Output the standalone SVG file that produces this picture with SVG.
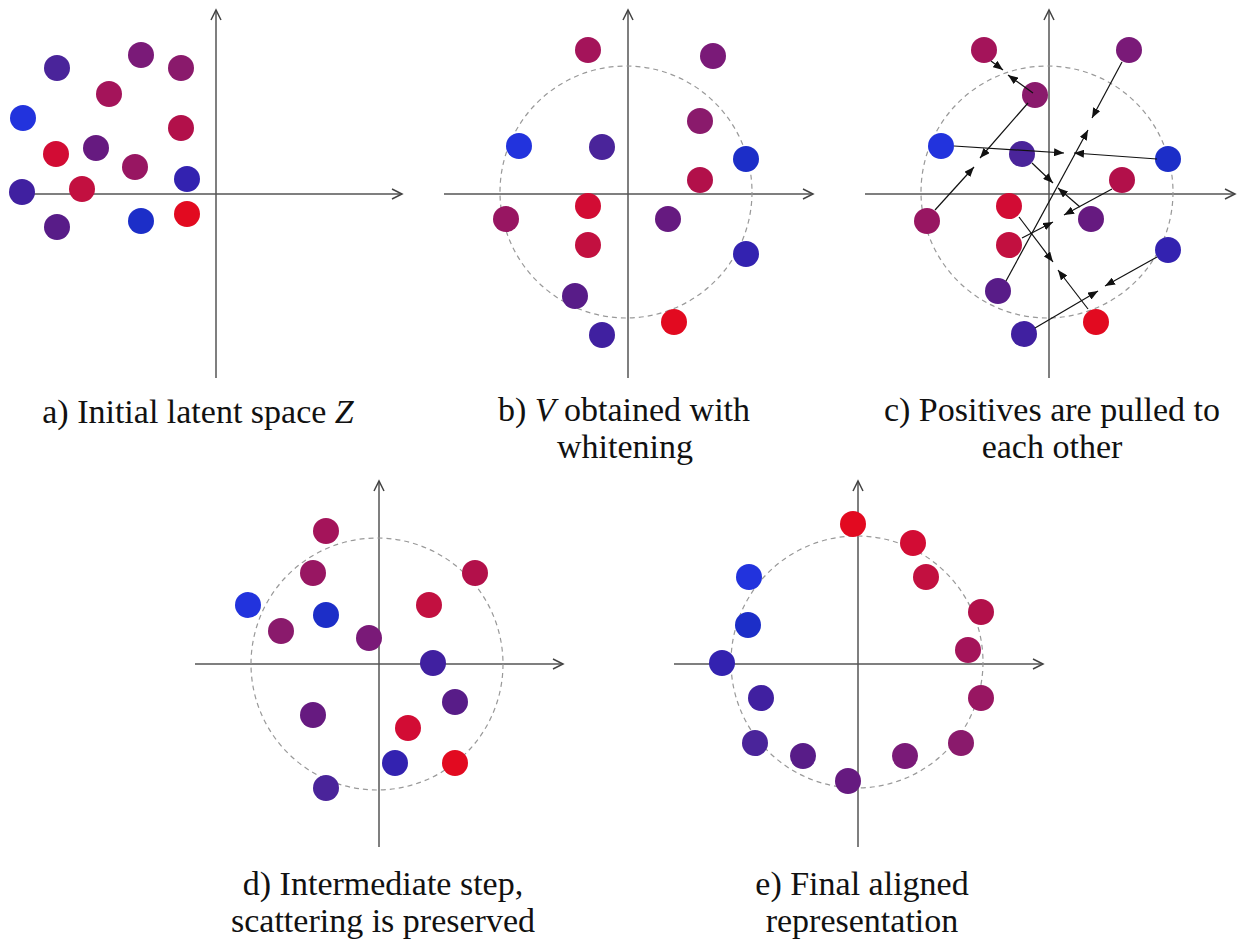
<svg xmlns="http://www.w3.org/2000/svg" width="1246" height="942" viewBox="0 0 1246 942">
<style>
.ax{stroke:#555;stroke-width:1.5;fill:none}
.ah{stroke:#444;stroke-width:1.5;fill:none}
.dc{stroke:#999;stroke-width:1.2;fill:none;stroke-dasharray:5 4}
.pt{stroke:none}
.b1{fill:#2233dd}.b2{fill:#1c2ec8}.i1{fill:#3322b0}.i2{fill:#4020a0}.i3{fill:#4a249a}
.p1{fill:#581c88}.p2{fill:#661a80}.p3{fill:#7a1a78}.m1{fill:#8a1a6c}.m2{fill:#981662}
.c1{fill:#a4145a}.c2{fill:#b2104a}.r1{fill:#c21040}.r2{fill:#d20c34}.r3{fill:#e20a20}
.ar{stroke:#111;stroke-width:1.2;fill:none;marker-end:url(#tri)}
text{font-family:'Liberation Serif','Times New Roman','DejaVu Serif',Times,serif;font-size:34px;fill:#111;text-anchor:middle}
</style>
<defs>
<marker id="tri" viewBox="0 0 10 8" refX="10" refY="4" markerWidth="10" markerHeight="8" markerUnits="userSpaceOnUse" orient="auto">
<path d="M0,0 L10,4 L0,8 Z" fill="#111"/>
</marker>
</defs>

<!-- Panel a -->
<g id="panel-a">
<g id="axes-a">
<line class="ax" x1="216" y1="10" x2="216" y2="378"/>
<line class="ax" x1="10" y1="194" x2="402" y2="194"/>
<path class="ah" d="M211,20 L216,10 L221,20"/>
<path class="ah" d="M392,189 L402,194 L392,199"/>
</g>
<g id="a1"><circle class="pt i3" cx="57" cy="68" r="13"/></g>
<g id="a2"><circle class="pt p3" cx="141" cy="55" r="13"/></g>
<g id="a3"><circle class="pt m1" cx="181" cy="68" r="13"/></g>
<g id="a4"><circle class="pt c1" cx="109" cy="94" r="13"/></g>
<g id="a5"><circle class="pt b1" cx="23" cy="118" r="13"/></g>
<g id="a6"><circle class="pt c2" cx="181" cy="128" r="13"/></g>
<g id="a7"><circle class="pt r2" cx="56" cy="154" r="13"/></g>
<g id="a8"><circle class="pt p2" cx="96" cy="148" r="13"/></g>
<g id="a9"><circle class="pt m2" cx="135" cy="167" r="13"/></g>
<g id="a10"><circle class="pt i1" cx="187" cy="179" r="13"/></g>
<g id="a11"><circle class="pt i2" cx="22" cy="192" r="13"/></g>
<g id="a12"><circle class="pt r1" cx="82" cy="189" r="13"/></g>
<g id="a13"><circle class="pt p1" cx="57" cy="227" r="13"/></g>
<g id="a14"><circle class="pt b2" cx="141" cy="221" r="13"/></g>
<g id="a15"><circle class="pt r3" cx="187" cy="214" r="13"/></g>
<text x="198" y="423">a) Initial latent space <tspan font-style="italic">Z</tspan></text>
</g>

<!-- Panel b -->
<g id="panel-b">
<g id="axes-b">
<line class="ax" x1="628" y1="10" x2="628" y2="378"/>
<line class="ax" x1="444" y1="194" x2="813" y2="194"/>
<path class="ah" d="M623,20 L628,10 L633,20"/>
<path class="ah" d="M803,189 L813,194 L803,199"/>
<circle class="dc" cx="626" cy="192" r="126"/>
</g>
<g id="b1"><circle class="pt c1" cx="588" cy="50" r="13"/></g>
<g id="b2"><circle class="pt p3" cx="713" cy="56" r="13"/></g>
<g id="b3"><circle class="pt m1" cx="700" cy="121" r="13"/></g>
<g id="b4"><circle class="pt b1" cx="519" cy="146" r="13"/></g>
<g id="b5"><circle class="pt i3" cx="602" cy="147" r="13"/></g>
<g id="b6"><circle class="pt b2" cx="746" cy="159" r="13"/></g>
<g id="b7"><circle class="pt c2" cx="700" cy="180" r="13"/></g>
<g id="b8"><circle class="pt r2" cx="588" cy="206" r="13"/></g>
<g id="b9"><circle class="pt m2" cx="506" cy="219" r="13"/></g>
<g id="b10"><circle class="pt p2" cx="668" cy="219" r="13"/></g>
<g id="b11"><circle class="pt r1" cx="588" cy="245" r="13"/></g>
<g id="b12"><circle class="pt i1" cx="746" cy="254" r="13"/></g>
<g id="b13"><circle class="pt p1" cx="575" cy="296" r="13"/></g>
<g id="b14"><circle class="pt r3" cx="674" cy="322" r="13"/></g>
<g id="b15"><circle class="pt i2" cx="602" cy="335" r="13"/></g>
<text x="624" y="421">b) <tspan font-style="italic">V</tspan> obtained with</text>
<text x="625" y="458">whitening</text>
</g>

<!-- Panel c -->
<g id="panel-c">
<g id="axes-c">
<line class="ax" x1="1049" y1="10" x2="1049" y2="378"/>
<line class="ax" x1="865" y1="194" x2="1235" y2="194"/>
<path class="ah" d="M1044,20 L1049,10 L1054,20"/>
<path class="ah" d="M1225,189 L1235,194 L1225,199"/>
<circle class="dc" cx="1047" cy="192" r="126"/>
</g>
<g id="c1"><circle class="pt c1" cx="984" cy="50" r="13"/></g>
<g id="c2"><circle class="pt p3" cx="1129" cy="50" r="13"/></g>
<g id="c3"><circle class="pt m1" cx="1035" cy="95" r="13"/></g>
<g id="c4"><circle class="pt b1" cx="941" cy="146" r="13"/></g>
<g id="c5"><circle class="pt i3" cx="1022" cy="154" r="13"/></g>
<g id="c6"><circle class="pt b2" cx="1168" cy="159" r="13"/></g>
<g id="c7"><circle class="pt c2" cx="1122" cy="180" r="13"/></g>
<g id="c8"><circle class="pt r2" cx="1009" cy="206" r="13"/></g>
<g id="c9"><circle class="pt m2" cx="927" cy="221" r="13"/></g>
<g id="c10"><circle class="pt p2" cx="1091" cy="219" r="13"/></g>
<g id="c11"><circle class="pt r1" cx="1009" cy="245" r="13"/></g>
<g id="c12"><circle class="pt i1" cx="1168" cy="250" r="13"/></g>
<g id="c13"><circle class="pt p1" cx="998" cy="291" r="13"/></g>
<g id="c14"><circle class="pt r3" cx="1096" cy="322" r="13"/></g>
<g id="c15"><circle class="pt i2" cx="1024" cy="334" r="13"/></g>
<g id="connectors-c">
<line class="ar" x1="991" y1="61" x2="1003" y2="70"/>
<line class="ar" x1="1033" y1="93" x2="1008" y2="75"/>
<line class="ar" x1="1028" y1="103" x2="980" y2="158"/>
<line class="ar" x1="935" y1="210" x2="974" y2="167"/>
<line class="ar" x1="954" y1="146" x2="1064" y2="153"/>
<line class="ar" x1="1157" y1="159" x2="1074" y2="153"/>
<line class="ar" x1="1032" y1="163" x2="1053" y2="183"/>
<line class="ar" x1="1080" y1="207" x2="1058" y2="188"/>
<line class="ar" x1="1112" y1="189" x2="1064" y2="215"/>
<line class="ar" x1="1122" y1="62" x2="1092" y2="118"/>
<line class="ar" x1="1006" y1="281" x2="1088" y2="130"/>
<line class="ar" x1="1022" y1="238" x2="1053" y2="222"/>
<line class="ar" x1="1019" y1="217" x2="1053" y2="262"/>
<line class="ar" x1="1088" y1="309" x2="1058" y2="270"/>
<line class="ar" x1="1157" y1="257" x2="1105" y2="286"/>
<line class="ar" x1="1035" y1="328" x2="1098" y2="291"/>
</g>
<text x="1052" y="421">c) Positives are pulled to</text>
<text x="1052" y="458">each other</text>
</g>

<!-- Panel d -->
<g id="panel-d">
<g id="axes-d">
<line class="ax" x1="379" y1="481" x2="379" y2="847"/>
<line class="ax" x1="195" y1="664" x2="563" y2="664"/>
<path class="ah" d="M374,491 L379,481 L384,491"/>
<path class="ah" d="M553,659 L563,664 L553,669"/>
<circle class="dc" cx="377" cy="664" r="126"/>
</g>
<g id="d1"><circle class="pt c1" cx="326" cy="531" r="13"/></g>
<g id="d2"><circle class="pt c2" cx="475" cy="573" r="13"/></g>
<g id="d3"><circle class="pt m2" cx="313" cy="573" r="13"/></g>
<g id="d4"><circle class="pt b1" cx="248" cy="605" r="13"/></g>
<g id="d5"><circle class="pt b2" cx="326" cy="615" r="13"/></g>
<g id="d6"><circle class="pt r1" cx="429" cy="605" r="13"/></g>
<g id="d7"><circle class="pt m1" cx="281" cy="631" r="13"/></g>
<g id="d8"><circle class="pt p3" cx="369" cy="638" r="13"/></g>
<g id="d9"><circle class="pt i2" cx="433" cy="663" r="13"/></g>
<g id="d10"><circle class="pt p1" cx="455" cy="702" r="13"/></g>
<g id="d11"><circle class="pt p2" cx="313" cy="715" r="13"/></g>
<g id="d12"><circle class="pt r2" cx="408" cy="728" r="13"/></g>
<g id="d13"><circle class="pt i1" cx="395" cy="763" r="13"/></g>
<g id="d14"><circle class="pt r3" cx="455" cy="763" r="13"/></g>
<g id="d15"><circle class="pt i3" cx="326" cy="788" r="13"/></g>
<text x="383" y="895">d) Intermediate step,</text>
<text x="383" y="932">scattering is preserved</text>
</g>

<!-- Panel e -->
<g id="panel-e">
<g id="axes-e">
<line class="ax" x1="858" y1="481" x2="858" y2="847"/>
<line class="ax" x1="674" y1="664" x2="1043" y2="664"/>
<path class="ah" d="M853,491 L858,481 L863,491"/>
<path class="ah" d="M1033,659 L1043,664 L1033,669"/>
<circle class="dc" cx="857" cy="662" r="126"/>
</g>
<g id="e1"><circle class="pt r3" cx="853" cy="524" r="13"/></g>
<g id="e2"><circle class="pt r2" cx="913" cy="543" r="13"/></g>
<g id="e3"><circle class="pt r1" cx="926" cy="577" r="13"/></g>
<g id="e4"><circle class="pt c2" cx="981" cy="612" r="13"/></g>
<g id="e5"><circle class="pt c1" cx="968" cy="650" r="13"/></g>
<g id="e6"><circle class="pt m2" cx="981" cy="698" r="13"/></g>
<g id="e7"><circle class="pt m1" cx="961" cy="743" r="13"/></g>
<g id="e8"><circle class="pt p3" cx="905" cy="756" r="13"/></g>
<g id="e9"><circle class="pt p2" cx="848" cy="781" r="13"/></g>
<g id="e10"><circle class="pt p1" cx="803" cy="756" r="13"/></g>
<g id="e11"><circle class="pt i3" cx="755" cy="743" r="13"/></g>
<g id="e12"><circle class="pt i2" cx="761" cy="698" r="13"/></g>
<g id="e13"><circle class="pt i1" cx="722" cy="663" r="13"/></g>
<g id="e14"><circle class="pt b2" cx="748" cy="625" r="13"/></g>
<g id="e15"><circle class="pt b1" cx="749" cy="577" r="13"/></g>
<text x="862" y="895">e) Final aligned</text>
<text x="862" y="932">representation</text>
</g>
</svg>
